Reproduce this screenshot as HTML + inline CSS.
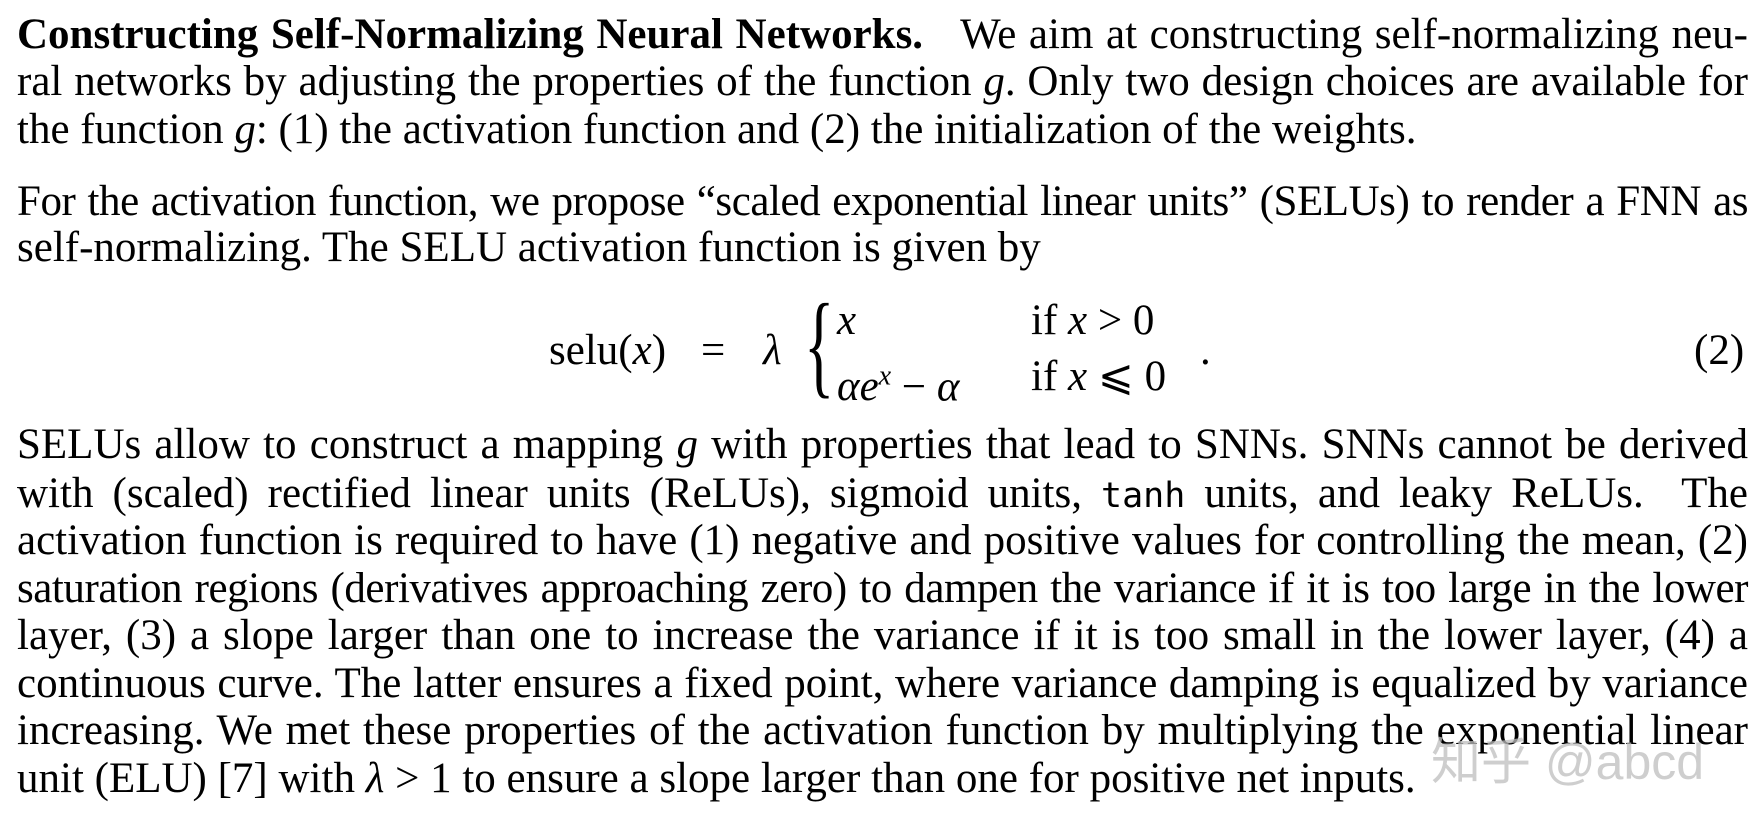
<!DOCTYPE html>
<html><head><meta charset="utf-8"><style>
body{margin:0;width:1764px;height:820px;background:#fff;position:relative;overflow:hidden;font-family:"Liberation Serif",serif;color:#000}
.l{position:absolute;left:17px;width:1731px;font-size:43px;line-height:43px;text-align:justify;text-align-last:justify;white-space:nowrap}
.n{text-align-last:left}
.t{letter-spacing:-0.45px}
i{font-style:italic}
.m{font-family:"DejaVu Sans Mono","Liberation Mono",monospace;font-size:35px}
.e{position:absolute;font-size:43px;line-height:43px;white-space:nowrap}
</style></head><body>
<div class="l" style="top:13px"><b>Constructing Self-Normalizing Neural Networks.</b>&nbsp;&nbsp; We aim at constructing self-normalizing neu-</div>
<div class="l" style="top:60px">ral networks by adjusting the properties of the function <i>g</i>. Only two design choices are available for</div>
<div class="l n" style="top:108px">the function <i>g</i>: (1) the activation function and (2) the initialization of the weights.</div>
<div class="l t" style="top:180px">For the activation function, we propose “scaled exponential linear units” (SELUs) to render a FNN as</div>
<div class="l n" style="top:226px">self-normalizing. The SELU activation function is given by</div>

<div class="e" style="left:549px;top:329px">selu(<i>x</i>)</div>
<div class="e" style="left:701px;top:329px">=</div>
<div class="e" style="left:763px;top:329px"><i>λ</i></div>
<div class="e" style="left:804px;top:287px;font-size:115px;line-height:115px;transform:scaleX(0.55);transform-origin:left">{</div>
<div class="e" style="left:837px;top:299px"><i>x</i></div>
<div class="e" style="left:837px;top:355px"><i>αe<sup style="font-size:28px">x</sup></i> − <i>α</i></div>
<div class="e" style="left:1031px;top:299px">if <i>x</i> &gt; 0</div>
<div class="e" style="left:1031px;top:355px">if <i>x</i> ⩽ 0</div>
<div class="e" style="left:1200px;top:329px">.</div>
<div class="e" style="left:1694px;top:329px">(2)</div>

<div class="l" style="top:423px">SELUs allow to construct a mapping <i>g</i> with properties that lead to SNNs. SNNs cannot be derived</div>
<div class="l" style="top:472px">with (scaled) rectified linear units (ReLUs), sigmoid units, <span class="m">tanh</span> units, and leaky ReLUs.&nbsp; The</div>
<div class="l" style="top:519px">activation function is required to have (1) negative and positive values for controlling the mean, (2)</div>
<div class="l t" style="top:567px">saturation regions (derivatives approaching zero) to dampen the variance if it is too large in the lower</div>
<div class="l" style="top:614px">layer, (3) a slope larger than one to increase the variance if it is too small in the lower layer, (4) a</div>
<div class="l" style="top:662px">continuous curve. The latter ensures a fixed point, where variance damping is equalized by variance</div>
<div class="l" style="top:709px">increasing. We met these properties of the activation function by multiplying the exponential linear</div>
<div class="l n" style="top:757px">unit (ELU) [7] with <i>λ</i> &gt; 1 to ensure a slope larger than one for positive net inputs.</div>

<div style="position:absolute;left:1431px;top:722px;font-family:'Liberation Sans','Noto Sans CJK SC',sans-serif;font-size:50px;color:rgba(190,190,190,0.75);white-space:nowrap">知乎 @abcd</div>
</body></html>
